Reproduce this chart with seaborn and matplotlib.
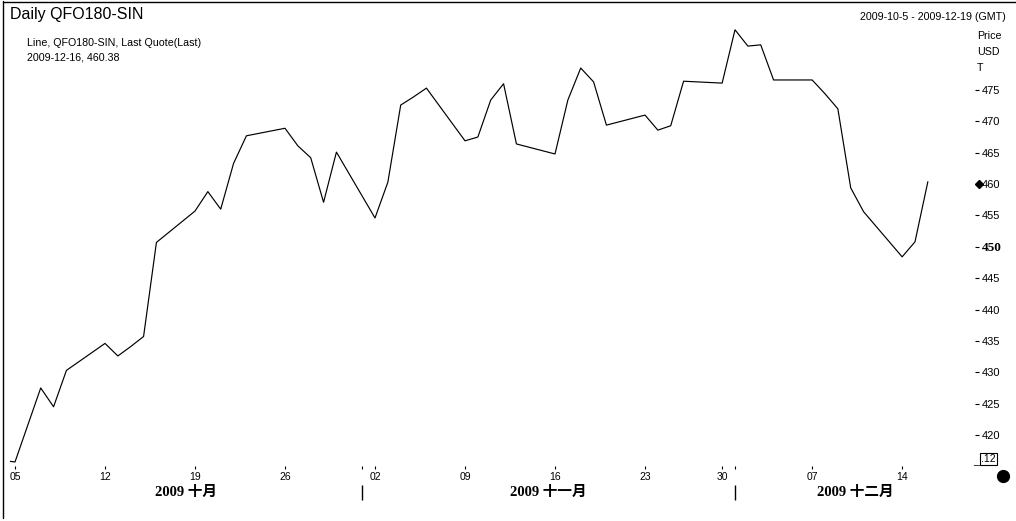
import numpy as np
import pandas as pd
import matplotlib
matplotlib.use("Agg")
import matplotlib.pyplot as plt
from matplotlib.lines import Line2D
import seaborn as sns

# ---------------- data ----------------
dates = ["2009-10-02", "2009-10-05", "2009-10-06", "2009-10-07", "2009-10-08", "2009-10-09",
         "2009-10-12", "2009-10-13", "2009-10-14", "2009-10-15", "2009-10-16",
         "2009-10-19", "2009-10-20", "2009-10-21", "2009-10-22", "2009-10-23",
         "2009-10-26", "2009-10-27", "2009-10-28", "2009-10-29", "2009-10-30",
         "2009-11-02", "2009-11-03", "2009-11-04", "2009-11-05", "2009-11-06",
         "2009-11-09", "2009-11-10", "2009-11-11", "2009-11-12", "2009-11-13",
         "2009-11-16", "2009-11-17", "2009-11-18", "2009-11-19", "2009-11-20",
         "2009-11-23", "2009-11-24", "2009-11-25", "2009-11-27",
         "2009-11-30", "2009-12-01", "2009-12-02", "2009-12-03", "2009-12-04",
         "2009-12-07", "2009-12-08", "2009-12-09", "2009-12-10", "2009-12-11",
         "2009-12-14", "2009-12-15", "2009-12-16"]
prices = [416.5, 415.7, 421.6, 427.5, 424.5, 430.3,
          434.6, 432.6, 434.1, 435.7, 450.7,
          455.7, 458.8, 456.0, 463.3, 467.7,
          468.9, 466.1, 464.2, 457.1, 465.1,
          454.6, 460.3, 472.6, 473.9, 475.3,
          466.9, 467.5, 473.4, 476.0, 466.4,
          464.8, 473.4, 478.5, 476.3, 469.4,
          471.0, 468.6, 469.3, 476.4,
          476.1, 484.6, 482.0, 482.2, 476.6,
          476.6, 474.4, 472.0, 459.4, 455.6,
          448.4, 450.8, 460.38]
gap_days = ["2009-11-26"]          # day left out of the time axis
x_tick_dates = ["2009-10-05", "2009-10-12", "2009-10-19", "2009-10-26", "2009-11-02",
                "2009-11-09", "2009-11-16", "2009-11-23", "2009-11-30", "2009-12-07",
                "2009-12-14"]
x_tick_labels = ["05", "12", "19", "26", "02", "09", "16", "23", "30", "07", "14"]
month_starts = ["2009-11-01", "2009-12-01"]
month_labels = ["2009 十月", "2009 十一月", "2009 十二月"]
y_ticks = [420, 425, 430, 435, 440, 445, 450, 455, 460, 465, 470, 475]
last_value = 460.38

# ---------------- helpers ----------------
origin = pd.Timestamp("2009-10-05")
gaps = pd.to_datetime(gap_days)


def pos(d):
    d = pd.Timestamp(d)
    return (d - origin).days - int(sum(g < d for g in gaps))


W, H = 1016, 521


def fx(x):
    return x / W


def fy(y):
    return 1 - y / H


df = pd.DataFrame({"pos": [pos(d) for d in dates], "price": prices})

sns.set_theme(style="white")
plt.rcParams["font.family"] = ["Liberation Sans", "Noto Sans CJK SC", "DejaVu Sans"]

fig = plt.figure(figsize=(W / 100, H / 100), dpi=100, facecolor="white")
ax_l, ax_r, ax_t, ax_b = 10, 975, 22, 466
ax = fig.add_axes([fx(ax_l), fy(ax_b), (ax_r - ax_l) / W, (ax_b - ax_t) / H])
ax.set_facecolor("white")

sns.lineplot(data=df, x="pos", y="price", color="black", linewidth=0.85,
             ax=ax, sort=True, estimator=None)

day_px = 90 / 7
x0 = (ax_l - 15) / day_px
x1 = (ax_r - 15) / day_px
ax.set_xlim(x0, x1)
px_per_unit = (435 - 90) / 55
ax.set_ylim(475 - (ax_b - 90) / px_per_unit, 475 + (90 - ax_t) / px_per_unit)

for s in ax.spines.values():
    s.set_visible(False)
ax.grid(False)
ax.set_xlabel("")
ax.set_ylabel("")

# y axis on the right
ax.yaxis.tick_right()
ax.set_yticks(y_ticks, labels=[str(v) for v in y_ticks])
ax.tick_params(axis="y", which="major", right=True, left=False, direction="out",
               length=3, width=0.8, pad=1.8, labelsize=8, colors="black")
for t, v in zip(ax.yaxis.get_major_ticks(), y_ticks):
    if v == 450:
        t.label2.set_fontfamily(["Liberation Serif"])
        t.label2.set_fontweight("bold")
        t.label2.set_fontsize(9.5)
    if v == 460:
        t.tick2line.set_visible(False)
ax.plot([1.004], [460], marker="D", markersize=4.5, color="black",
        transform=ax.get_yaxis_transform(), clip_on=False)

# x axis
month_pos = [pos(d) for d in month_starts]
ax.set_xticks([pos(d) for d in x_tick_dates], labels=x_tick_labels)
ax.set_xticks(month_pos, minor=True)
ax.tick_params(axis="x", which="both", bottom=True, direction="out", length=2,
               width=0.8, pad=2.5, labelsize=7.5, colors="black")

ah = ax_b - ax_t
ax.vlines(month_pos, -(485 - ax_b) / ah, -(500 - ax_b) / ah,
          transform=ax.get_xaxis_transform(), colors="black", lw=1, clip_on=False)
bounds = [x0] + month_pos + [x1]
for i, lab in enumerate(month_labels):
    c = (bounds[i] + bounds[i + 1]) / 2
    ax.text(c, -(492 - ax_b) / ah, lab, transform=ax.get_xaxis_transform(),
            ha="center", va="center", fontsize=10.5, fontweight="bold",
            family=["Liberation Serif", "Noto Sans CJK SC"], color="black")

# frame lines
fig.add_artist(Line2D([fx(2.5), fx(2.5)], [fy(1), fy(518)], transform=fig.transFigure,
                      color="black", lw=1))
fig.add_artist(Line2D([fx(2.5), 1], [fy(1.5), fy(1.5)], transform=fig.transFigure,
                      color="black", lw=1))

# header texts
fig.text(fx(10), fy(15), "Daily QFO180-SIN", fontsize=11.5, ha="left", va="center",
         color="black")
fig.text(fx(27), fy(42.5), "Line, QFO180-SIN, Last Quote(Last)", fontsize=7.7,
         ha="left", va="center", color="black")
fig.text(fx(27), fy(57), f"2009-12-16, {last_value:.2f}", fontsize=7.7,
         ha="left", va="center", color="black")
fig.text(fx(1006), fy(16.5), "2009-10-5 - 2009-12-19 (GMT)", fontsize=7.7,
         ha="right", va="center", color="black")
for txt, yy in zip(["Price", "USD", "T"], [36, 52, 68]):
    fig.text(fx(977), fy(yy), txt, fontsize=7.7, ha="left", va="center", color="black")

fig.text(fx(973), fy(464), "_", fontsize=7.5, ha="left", va="baseline", color="black")
fig.text(fx(988.5), fy(459), ".12", fontsize=7.5, ha="center", va="center", color="black",
         bbox=dict(boxstyle="square,pad=0.12", fc="white", ec="black", lw=0.8))
fig.add_artist(Line2D([fx(1003)], [fy(476)], transform=fig.transFigure, marker="o",
                      markersize=8.5, color="black", linestyle="none"))

fig.savefig("out.png", dpi=100, facecolor="white")
